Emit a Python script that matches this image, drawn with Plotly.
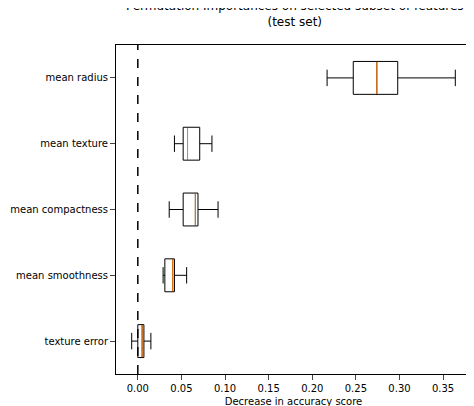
import plotly.graph_objects as go

features = ["texture error", "mean smoothness", "mean compactness", "mean texture", "mean radius"]
lower = [-0.007, 0.029, 0.036, 0.042, 0.217]
q1 = [0.000, 0.031, 0.052, 0.052, 0.247]
median = [0.005, 0.040, 0.066, 0.057, 0.274]
q3 = [0.007, 0.042, 0.069, 0.071, 0.298]
upper = [0.015, 0.056, 0.092, 0.085, 0.364]
tick_vals = [0.0, 0.05, 0.10, 0.15, 0.20, 0.25, 0.30, 0.35]
tick_text = ["0.00", "0.05", "0.10", "0.15", "0.20", "0.25", "0.30", "0.35"]

fig = go.Figure()
fig.add_trace(go.Box(
    y=features, q1=q1, median=median, q3=q3,
    lowerfence=lower, upperfence=upper,
    orientation="h", fillcolor="white",
    line=dict(color="black", width=1), whiskerwidth=0.5, width=0.5,
    hoverinfo="skip",
))
# orange median lines like matplotlib
fig.add_trace(go.Scatter(
    x=median, y=features, mode="markers",
    marker=dict(symbol="line-ns", size=23, line=dict(color="#ff7f0e", width=1)),
    hoverinfo="skip",
))
fig.add_vline(x=0, line=dict(color="black", width=1.5, dash="dash"))

fig.update_layout(
    width=474, height=406, showlegend=False,
    plot_bgcolor="white", paper_bgcolor="white",
    font=dict(family="DejaVu Sans", size=10, color="black"),
    title=dict(text="Permutation Importances on selected subset of features<br>(test set)",
               x=0.605, xanchor="center", yref="container", y=0.995, yanchor="top",
               font=dict(size=12)),
    margin=dict(l=108, r=11, t=37, b=40),
)
fig.update_xaxes(range=[-0.025, 0.382], tickvals=tick_vals, ticktext=tick_text,
                 showline=True, mirror=True, linecolor="black", ticks="outside",
                 showgrid=False, zeroline=False, automargin=False,
                 title=dict(text="Decrease in accuracy score", standoff=4, font=dict(size=10)))
fig.update_yaxes(categoryorder="array", categoryarray=features, automargin=False,
                 showline=True, mirror=True, linecolor="black", ticks="outside",
                 showgrid=False)

fig.write_html("out.html")
